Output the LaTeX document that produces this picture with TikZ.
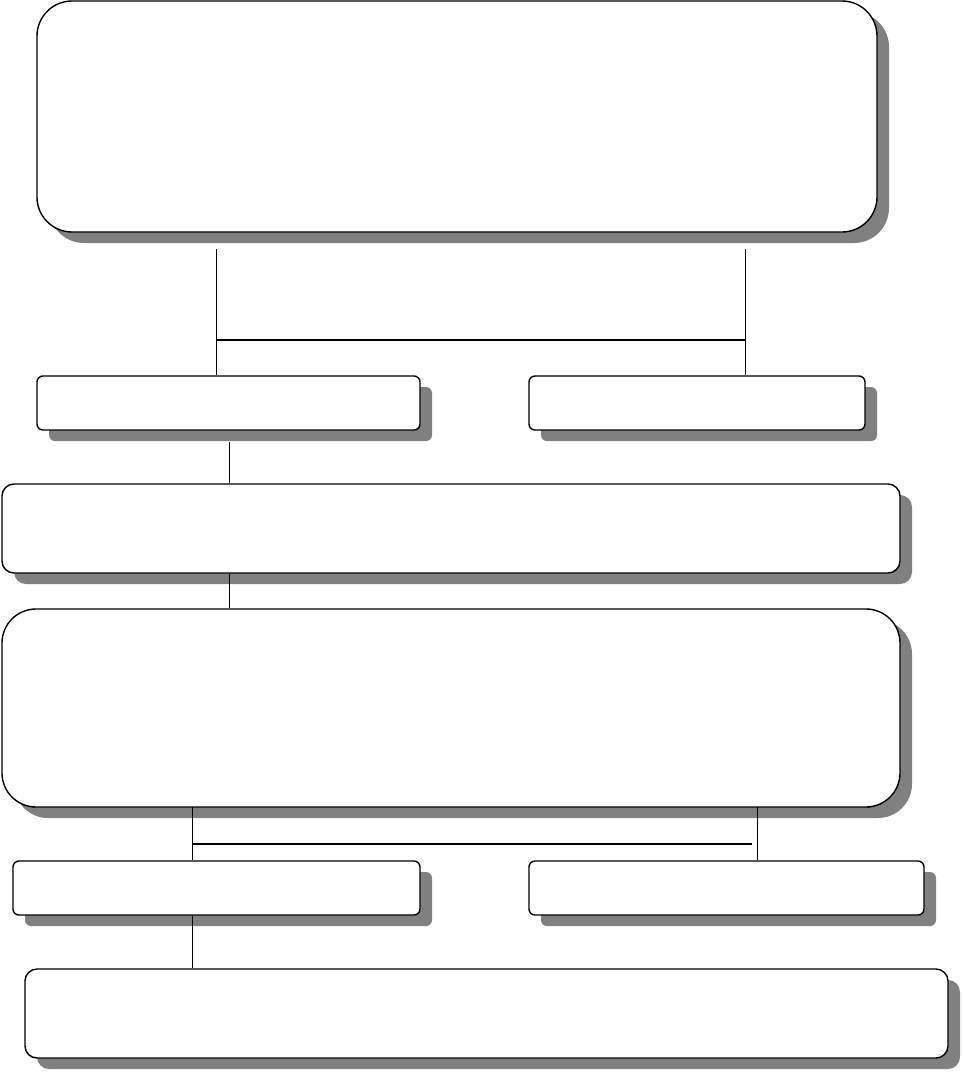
\documentclass[tikz,border=0pt]{standalone}
\usepackage{tikz}
\usetikzlibrary{shadows}

\begin{document}
\begin{tikzpicture}[x=0.5pt,y=-0.5pt]
		\tikzset{box/.style = {draw, fill=white, line width=0.7pt, inner sep=0pt,
			drop shadow={shadow xshift=6pt, shadow yshift=-5.5pt, fill=gray, opacity=1}}}
		\tikzset{link/.style = {line width=0.5pt}}
		\tikzset{bar/.style = {line width=1pt}}

		\useasboundingbox (0,0) rectangle (962,1073);

		\node[box, rounded corners=17.5pt, minimum width=420pt, minimum height=115.5pt] (top) at (457,116.5) {};
		\node[box, rounded corners=3pt, minimum width=191.5pt, minimum height=27pt] (L_1) at (228.5,403) {};
		\node[box, rounded corners=3pt, minimum width=168pt, minimum height=27pt] (R_1) at (697,403) {};
		\node[box, rounded corners=6pt, minimum width=449pt, minimum height=44.5pt] (mid_1) at (451,528.5) {};
		\node[box, rounded corners=17pt, minimum width=449pt, minimum height=99pt] (mid_2) at (451,708) {};
		\node[box, rounded corners=3pt, minimum width=203.5pt, minimum height=27pt] (L_2) at (216.5,888) {};
		\node[box, rounded corners=3pt, minimum width=197.5pt, minimum height=27pt] (R_2) at (726.5,888) {};
		\node[box, rounded corners=6pt, minimum width=461.5pt, minimum height=44.5pt] (bottom) at (486.5,1013.5) {};

		\coordinate (s_1) at (216,249);
		\coordinate (s_2) at (745,249);
		\coordinate (s_3) at (229,442);
		\coordinate (s_4) at (192,807);
		\coordinate (s_5) at (757,807);
		\coordinate (s_6) at (752,844);

		\draw[link] (s_1) -- (s_1 |- L_1.north);
		\draw[link] (s_2) -- (s_2 |- R_1.north);
		\draw[bar] (216,340) -- (745,340);

		\draw[link] (s_3) -- (s_3 |- mid_1.north);
		\draw[link] (s_3 |- mid_1.south) -- (s_3 |- mid_2.north);

		\draw[link] (s_4) -- (s_4 |- L_2.north);
		\draw[link] (s_5) -- (s_5 |- R_2.north);
		\draw[bar] (s_4 |- s_6) -- (s_6);

		\draw[link] (s_4 |- L_2.south) -- (s_4 |- bottom.north);
	\end{tikzpicture}
\end{document}
